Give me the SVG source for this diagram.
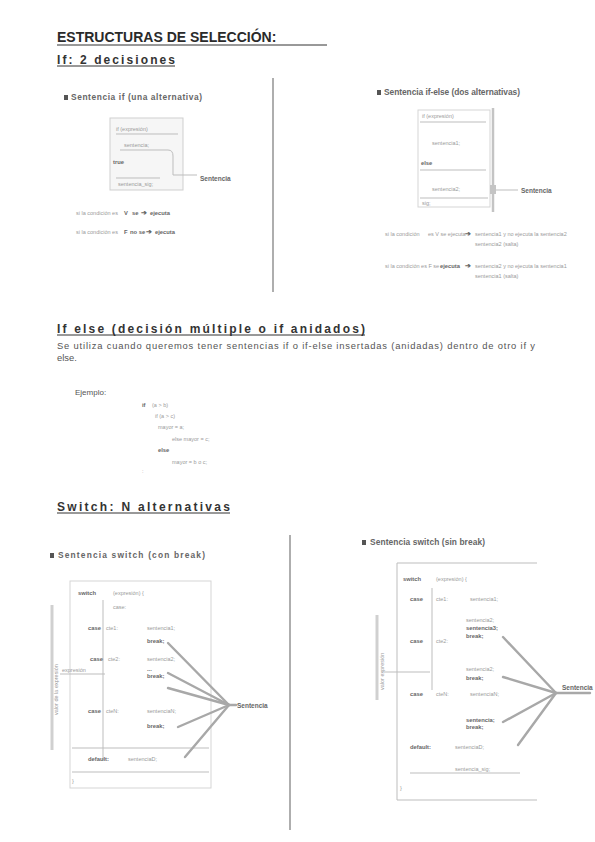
<svg xmlns="http://www.w3.org/2000/svg" width="595" height="842" viewBox="0 0 595 842">
<style>
text{font-family:"Liberation Sans",Arial,sans-serif;}
.h1{font-size:14px;font-weight:bold;fill:#2a2a2a;}
.h2{font-size:12px;font-weight:bold;fill:#333;}
.ul{stroke:#333;stroke-width:1;}
.p{font-size:9.4px;fill:#555;}
.b{font-size:8.4px;fill:#666;font-weight:bold;}
.s{font-size:5.5px;fill:#9a9a9a;}
.sb{font-size:5.8px;fill:#666;font-weight:bold;}
.box{fill:#f6f6f6;stroke:#cfcfcf;stroke-width:1;}
.boxw{fill:#fff;stroke:#d5d5d5;stroke-width:1;}
.ln{fill:none;stroke:#bdbdbd;stroke-width:1;}
.fan{fill:none;stroke:#a8a8a8;stroke-width:2.4;stroke-linecap:round;}
.div{stroke:#9a9a9a;stroke-width:1.6;}
.bul{fill:#555;}
.lab{font-size:6.5px;fill:#666;font-weight:bold;}
</style>

<g id="titles">
<text class="h1" x="57" y="42">ESTRUCTURAS DE SELECCIÓN:</text>
<line class="ul" x1="57" y1="45" x2="327" y2="45"/>
<text class="h2" x="57" y="64" textLength="118">If: 2 decisiones</text>
<line class="ul" x1="57" y1="66" x2="175" y2="66"/>
</g>

<g id="dividers">
<line class="div" x1="273" y1="78" x2="273" y2="292"/>
<line class="div" x1="290" y1="535" x2="290" y2="830"/>
</g>

<!-- if simple -->
<g id="if-simple">
<rect class="bul" x="64" y="95" width="4" height="5"/>
<text class="b" x="71" y="100" textLength="131">Sentencia if (una alternativa)</text>
<rect class="box" x="110" y="118" width="73" height="72"/>
<text class="s" x="116" y="131">if (expresión)</text>
<line class="ln" x1="116" y1="134" x2="178" y2="134"/>
<text class="s" x="124" y="147">sentencia;</text>
<path class="ln" d="M120 150 H168 Q173 150 173 156 V175"/>
<text class="sb" x="113" y="164">true</text>
<text class="s" x="118" y="186">sentencia_sig;</text>
<line class="ln" x1="116" y1="178" x2="160" y2="178"/>
<path class="ln" d="M173 175 H197"/>
<text class="lab" x="200" y="181">Sentencia</text>
<text class="s" x="76" y="215">si la condición es</text>
<text class="sb" x="124" y="215">V</text>
<text class="sb" x="132" y="215">se</text>
<text class="b" x="141" y="215" style="font-size:7px">➔</text>
<text class="sb" x="150" y="215">ejecuta</text>
<text class="s" x="76" y="234">si la condición es</text>
<text class="sb" x="124" y="234">F</text>
<text class="sb" x="130" y="234">no se</text>
<text class="b" x="146" y="234" style="font-size:7px">➔</text>
<text class="sb" x="155" y="234">ejecuta</text>
</g>

<!-- if-else -->
<g id="if-else">
<rect class="bul" x="377" y="90" width="4" height="5"/>
<text class="b" x="384" y="95" textLength="136">Sentencia if-else (dos alternativas)</text>
<rect class="boxw" x="418" y="110" width="72" height="97"/>
<text class="s" x="422" y="118">if (expresión)</text>
<line class="ln" x1="420" y1="122" x2="486" y2="122"/>
<text class="s" x="432" y="145">sentencia1;</text>
<text class="sb" x="421" y="165">else</text>
<line class="ln" x1="420" y1="170" x2="486" y2="170"/>
<text class="s" x="432" y="191">sentencia2;</text>
<line class="ln" x1="420" y1="198" x2="488" y2="198"/>
<text class="s" x="422" y="205">sig;</text>
<line x1="493" y1="108" x2="493" y2="212" stroke="#c4c4c4" stroke-width="2.5"/>
<rect x="490" y="185" width="6" height="9" fill="#c4c4c4"/>
<line class="ln" x1="496" y1="190" x2="518" y2="190"/>
<text class="lab" x="521" y="193">Sentencia</text>
<text class="s" x="385" y="236">si la condición</text>
<text class="s" x="428" y="236">es V se ejecuta</text>
<text class="b" x="465" y="236" style="font-size:7px">➔</text>
<text class="s" x="475" y="236">sentencia1 y no ejecuta la sentencia2</text>
<text class="s" x="475" y="246">sentencia2 (salta)</text>
<text class="s" x="385" y="268">si la condición es F se</text>
<text class="sb" x="440" y="268">ejecuta</text>
<text class="b" x="465" y="268" style="font-size:7px">➔</text>
<text class="s" x="475" y="268">sentencia2 y no ejecuta la sentencia1</text>
<text class="s" x="475" y="278">sentencia1 (salta)</text>
</g>

<!-- if anidados -->
<g id="if-anidados">
<text class="h2" x="57" y="333" textLength="308">If else (decisión múltiple o if anidados)</text>
<line class="ul" x1="57" y1="335" x2="365" y2="335"/>
<text class="p" x="57" y="349" textLength="478">Se utiliza cuando queremos tener sentencias if o if-else insertadas (anidadas) dentro de otro if y</text>
<text class="p" x="57" y="361">else.</text>
<text class="p" x="75" y="395" style="font-size:8px">Ejemplo:</text>
<text class="sb" x="142" y="407">if</text>
<text class="s" x="152" y="407">(a &gt; b)</text>
<text class="s" x="155" y="418">if (a &gt; c)</text>
<text class="s" x="158" y="429">mayor = a;</text>
<text class="s" x="172" y="441">else mayor = c;</text>
<text class="sb" x="158" y="452">else</text>
<text class="s" x="172" y="464">mayor = b o c;</text>
<text class="s" x="142" y="473">:</text>
</g>

<!-- switch heading -->
<g id="switch-title">
<text class="h2" x="57" y="511" textLength="173">Switch: N alternativas</text>
<line class="ul" x1="57" y1="513" x2="230" y2="513"/>
</g>

<!-- switch left -->
<g id="switch-break">
<rect class="bul" x="50" y="553" width="4" height="5"/>
<text class="b" x="58" y="558" textLength="147">Sentencia switch (con break)</text>
<rect class="boxw" x="70" y="581" width="141" height="207"/>
<text class="sb" x="78" y="595">switch</text>
<text class="s" x="113" y="595">(expresión) {</text>
<text class="s" x="113" y="609">case:</text>
<line class="ln" x1="103" y1="600" x2="103" y2="760"/>
<text class="sb" x="88" y="630">case</text>
<text class="s" x="106" y="630">cte1:</text>
<text class="s" x="147" y="630">sentencia1;</text>
<text class="sb" x="147" y="643">break;</text>
<text class="sb" x="90" y="661">case</text>
<text class="s" x="108" y="661">cte2:</text>
<text class="s" x="147" y="661">sentencia2;</text>
<text class="sb" x="147" y="671">...</text>
<text class="sb" x="147" y="678">break;</text>
<text class="sb" x="88" y="713">case</text>
<text class="s" x="106" y="713">cteN:</text>
<text class="s" x="147" y="713">sentenciaN;</text>
<text class="sb" x="147" y="728">break;</text>
<line class="ln" x1="72" y1="748" x2="209" y2="748"/>
<text class="sb" x="88" y="761">default:</text>
<text class="s" x="128" y="761">sentenciaD;</text>
<line class="ln" x1="72" y1="772" x2="209" y2="772"/>
<text class="s" x="72" y="783">}</text>
<line x1="52" y1="605" x2="52" y2="750" stroke="#d0d0d0" stroke-width="3"/>
<text class="s" transform="translate(58,715) rotate(-90)">valor de la expresión</text>
<line class="ln" x1="60" y1="674" x2="105" y2="674"/>
<text class="s" x="62" y="672">expresión</text>
</g>

<!-- switch right -->
<g id="switch-nobreak">
<rect class="bul" x="362" y="540" width="4" height="5"/>
<text class="b" x="370" y="545" textLength="115">Sentencia switch (sin break)</text>
<path class="ln" d="M397 563 H537 M397 563 V800 H537" stroke="#d0d0d0"/>
<text class="sb" x="403" y="581">switch</text>
<text class="s" x="436" y="581">(expresión) {</text>
<line class="ln" x1="432" y1="588" x2="432" y2="690"/>
<text class="sb" x="410" y="601">case</text>
<text class="s" x="436" y="601">cte1:</text>
<text class="s" x="470" y="601">sentencia1;</text>
<text class="s" x="466" y="622">sentencia2;</text>
<text class="sb" x="466" y="630">sentencia3;</text>
<text class="sb" x="466" y="638">break;</text>
<text class="sb" x="410" y="643">case</text>
<text class="s" x="436" y="643">cte2:</text>
<text class="s" x="466" y="671">sentencia2;</text>
<text class="sb" x="466" y="680">break;</text>
<text class="sb" x="410" y="696">case</text>
<text class="s" x="436" y="696">cteN:</text>
<text class="s" x="470" y="696">sentenciaN;</text>
<text class="sb" x="466" y="722">sentencia;</text>
<text class="sb" x="466" y="729">break;</text>
<text class="sb" x="410" y="749">default:</text>
<text class="s" x="455" y="749">sentenciaD;</text>
<line class="ln" x1="410" y1="773" x2="520" y2="773"/>
<text class="s" x="455" y="771">sentencia_sig;</text>
<text class="s" x="400" y="790">}</text>
<line x1="377" y1="615" x2="377" y2="700" stroke="#d0d0d0" stroke-width="3"/>
<text class="s" transform="translate(384,690) rotate(-90)">valor expresión</text>
<line class="ln" x1="384" y1="672" x2="430" y2="672"/>
</g>

<g id="connectors">
<path class="fan" d="M168 643 L229 705"/>
<path class="fan" d="M168 673 L229 705"/>
<path class="fan" d="M168 688 L229 705"/>
<path class="fan" d="M178 727 L229 705"/>
<path class="fan" d="M185 757 L229 705"/>
<path class="fan" d="M229 705 H236"/>
<text class="lab" x="237" y="708">Sentencia</text>
<path class="fan" d="M503 637 L556 693"/>
<path class="fan" d="M503 677 L556 693"/>
<path class="fan" d="M503 722 L556 693"/>
<path class="fan" d="M518 745 L556 693"/>
<path class="fan" d="M556 693 H590"/>
<text class="lab" x="562" y="690">Sentencia</text>
</g>
</svg>
